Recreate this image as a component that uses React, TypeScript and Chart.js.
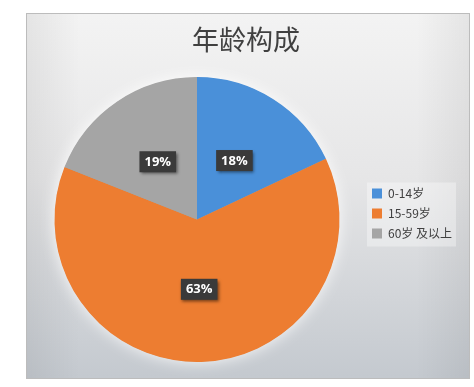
import React, { useEffect, useRef } from "react";
import { Chart, registerables } from "chart.js";

Chart.register(...registerables);

const titleText = "年龄构成";
const categories = ["0-14岁", "15-59岁", "60岁 及以上"];
const values = [18, 63, 19];
const colors = ["#4a90d9", "#ed7d31", "#a5a5a5"];

const bgPlugin = {
  id: "bgPlugin",
  beforeDraw(chart: any) {
    const { ctx, width, height } = chart;
    ctx.save();
    const g = ctx.createLinearGradient(0, 0, 0, height);
    g.addColorStop(0, "#f3f3f3");
    g.addColorStop(0.45, "#e6e6e7");
    g.addColorStop(1, "#c4c9cf");
    ctx.fillStyle = g;
    ctx.fillRect(0, 0, width, height);
    const h = ctx.createLinearGradient(0, 0, width, 0);
    h.addColorStop(0, "rgba(0,0,0,0.06)");
    h.addColorStop(0.12, "rgba(0,0,0,0)");
    h.addColorStop(0.88, "rgba(0,0,0,0)");
    h.addColorStop(1, "rgba(0,0,0,0.06)");
    ctx.fillStyle = h;
    ctx.fillRect(0, 0, width, height);
    const lg = chart.legend;
    if (lg && lg.legendHitBoxes && lg.legendHitBoxes.length) {
      const hb = lg.legendHitBoxes;
      const l = Math.min(...hb.map((b: any) => b.left)) - 5;
      const t = Math.min(...hb.map((b: any) => b.top)) - 5;
      const r = Math.max(...hb.map((b: any) => b.left + b.width)) + 4;
      const b = Math.max(...hb.map((b: any) => b.top + b.height)) + 7;
      ctx.fillStyle = "rgba(255,255,255,0.35)";
      ctx.fillRect(l, t, r - l, b - t);
    }
    ctx.restore();
  },
};

const legendShift = {
  id: "legendShift",
  afterLayout(chart: any) {
    const lg = chart.legend;
    if (lg) {
      lg.top -= 6;
      lg.bottom -= 6;
    }
  },
};

const glowPlugin = {
  id: "glowPlugin",
  beforeDatasetsDraw(chart: any) {
    const meta = chart.getDatasetMeta(0);
    const arc = meta.data[0];
    if (!arc) return;
    const { x, y, outerRadius } = arc.getProps(["x", "y", "outerRadius"], true);
    const { ctx } = chart;
    ctx.save();
    ctx.shadowColor = "rgba(255,255,255,0.9)";
    ctx.shadowBlur = 16;
    ctx.fillStyle = "#a5a5a5";
    ctx.beginPath();
    ctx.arc(x, y, outerRadius - 0.5, 0, Math.PI * 2);
    ctx.fill();
    ctx.restore();
  },
};

const labelPlugin = {
  id: "labelPlugin",
  afterDatasetsDraw(chart: any) {
    const { ctx } = chart;
    const meta = chart.getDatasetMeta(0);
    const data = chart.data.datasets[0].data as number[];
    const total = data.reduce((a, b) => a + b, 0);
    meta.data.forEach((arc: any, i: number) => {
      const { x, y, startAngle, endAngle, outerRadius } = arc.getProps(
        ["x", "y", "startAngle", "endAngle", "outerRadius"],
        true
      );
      const mid = (startAngle + endAngle) / 2;
      const r = outerRadius * 0.49;
      const px = x + Math.cos(mid) * r;
      const py = y + Math.sin(mid) * r;
      const text = Math.round((data[i] / total) * 100) + "%";
      ctx.save();
      ctx.font = "bold 13px 'Open Sans', sans-serif";
      const w = ctx.measureText(text).width + 10;
      const h = 21;
      ctx.shadowColor = "rgba(0,0,0,0.5)";
      ctx.shadowBlur = 3;
      ctx.shadowOffsetX = 1.5;
      ctx.shadowOffsetY = 2;
      ctx.fillStyle = "#3a3a3a";
      ctx.fillRect(px - w / 2, py - h / 2, w, h);
      ctx.shadowColor = "transparent";
      ctx.fillStyle = "#ffffff";
      ctx.textAlign = "center";
      ctx.textBaseline = "middle";
      ctx.fillText(text, px, py + 0.5);
      ctx.restore();
    });
  },
};

export default function App() {
  const ref = useRef<HTMLCanvasElement | null>(null);
  useEffect(() => {
    if (!ref.current) return;
    const chart = new Chart(ref.current, {
      type: "pie",
      data: {
        labels: categories,
        datasets: [
          {
            data: values,
            backgroundColor: colors,
            borderWidth: 0,
          },
        ],
      },
      options: {
        animation: false,
        responsive: true,
        maintainAspectRatio: false,
        layout: { padding: { left: 3, right: 7, top: 0, bottom: 16 } },
        plugins: {
          title: {
            display: true,
            text: titleText,
            color: "#404040",
            font: { size: 27, family: "'Noto Sans CJK SC', sans-serif", weight: "normal" },
            padding: { top: 10, bottom: 20.6 },
          },
          legend: {
            position: "right",
            fullSize: false,
            labels: {
              boxWidth: 10,
              boxHeight: 10,
              padding: 8,
              color: "#404040",
              font: { size: 12, family: "'Noto Sans CJK SC', sans-serif" },
            },
          },
          tooltip: { enabled: false },
        },
      },
      plugins: [bgPlugin, legendShift, glowPlugin, labelPlugin],
    } as any);
    return () => chart.destroy();
  }, []);
  return (
    <div
      style={{
        position: "absolute",
        left: 26,
        top: 13,
        width: 444,
        height: 366,
        border: "1px solid #bcbcbc",
        boxSizing: "border-box",
      }}
    >
      <div style={{ position: "relative", width: 442, height: 364 }}>
        <canvas ref={ref} />
      </div>
    </div>
  );
}
